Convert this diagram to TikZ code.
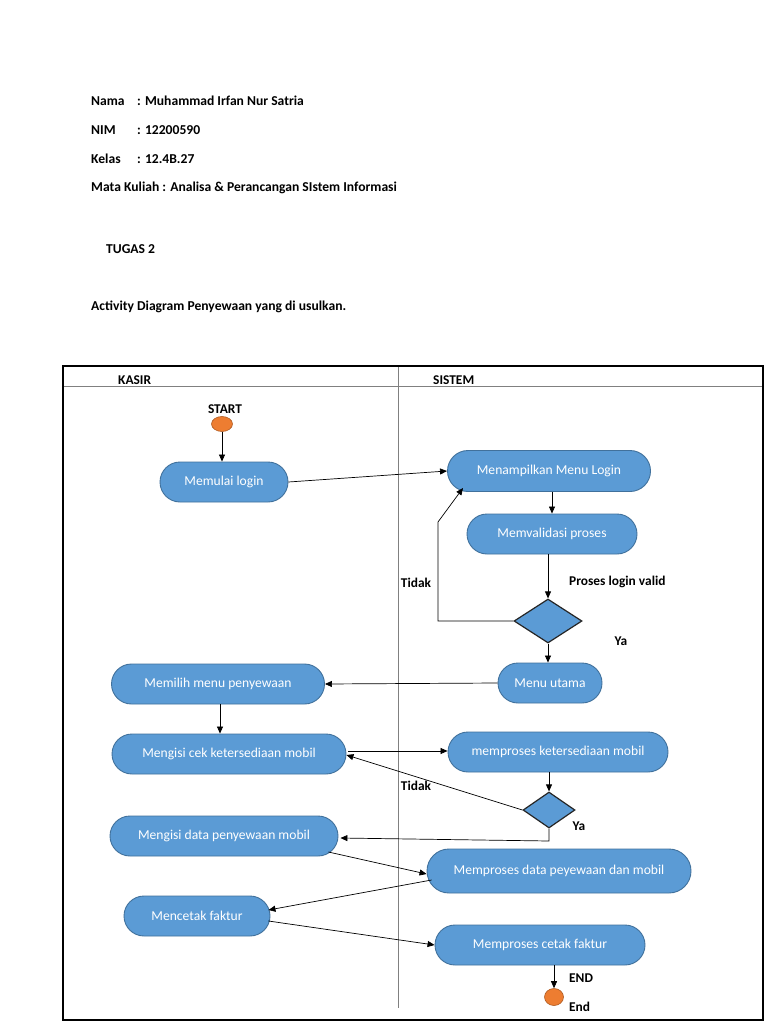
\documentclass[tikz,border=0pt]{standalone}
\usepackage{fontspec}
\setmainfont{Carlito}
\usetikzlibrary{shapes.misc,shapes.geometric,arrows.meta,calc}
\definecolor{actfill}{HTML}{5B9BD5}
\definecolor{actline}{HTML}{41719C}
\definecolor{orfill}{HTML}{ED7D31}
\definecolor{orline}{HTML}{AE5A21}
\definecolor{lanegray}{HTML}{808080}
\tikzset{
  act/.style={rounded rectangle, fill=actfill, draw=actline, line width=0.9pt,
    inner sep=0pt, minimum height=40pt, text=white, font=\fontsize{13.6}{15}\selectfont},
  dec/.style={diamond, fill=actfill, draw=black!85, line width=1.2pt, inner sep=0pt},
  flow/.style={-{Triangle[length=7pt,width=6pt]}, line width=0.7pt, black},
  hdr/.style={anchor=west, font=\bfseries\fontsize{13.6}{15}\selectfont, inner sep=0pt},
  lbl/.style={font=\bfseries\fontsize{13.4}{15}\selectfont, inner sep=0pt},
  dot/.style={ellipse, fill=orfill, draw=orline, line width=0.6pt, inner sep=0pt}
}
\begin{document}
\begin{tikzpicture}[x=1pt,y=-1pt]
\useasboundingbox (0,0) rectangle (768,1024);
\fill[white] (0,0) rectangle (768,1024);
% header text
\node[hdr] (h1) at (91,101) {Nama};
\node[hdr] (h1b) at (137,101) {: Muhammad Irfan Nur Satria};
\node[hdr] (h2) at (91,130) {NIM};
\node[hdr] (h2b) at (137,130) {: 12200590};
\node[hdr] (h3) at (91,159) {Kelas};
\node[hdr] (h3b) at (137,159) {: 12.4B.27};
\node[hdr] (h4) at (91,188) {Mata Kuliah : Analisa \& Perancangan SIstem Informasi};
\node[hdr] (h5) at (106,249) {TUGAS 2};
\node[hdr] (h6) at (91,307) {Activity Diagram Penyewaan yang di usulkan.};
% frame and lanes
\draw[line width=1.6pt] (63,366) rectangle (763,1020);
\draw[lanegray, line width=1pt] (64,386) -- (762,386);
\draw[lanegray, line width=1pt] (398,367) -- (398,1008);
\node[lbl, anchor=west] (kasir) at (118,380) {KASIR};
\node[lbl, anchor=west] (sistem) at (433,380) {SISTEM};
% start
\node[lbl] (startlbl) at (225,409) {START};
\node[dot, minimum width=21pt, minimum height=15pt] (start) at (222,424) {};
% activities
\node[act, minimum width=128pt] (login) at (224,482) {Memulai login};
\node[act, minimum width=203pt, minimum height=41pt] (menu) at (549,471) {Menampilkan Menu Login};
\node[act, minimum width=170pt] (valid) at (552,534) {Memvalidasi proses};
\node[dec, minimum width=68pt, minimum height=44pt] (d1) at (548,621) {};
\node[act, minimum width=104pt] (utama) at (550,683) {Menu utama};
\node[act, minimum width=213pt] (pilih) at (218,684) {Memilih menu penyewaan};
\node[act, minimum width=234pt] (cek) at (229,754) {Mengisi cek ketersediaan mobil};
\node[act, minimum width=220pt] (pcek) at (558,752) {memproses ketersediaan mobil};
\node[dec, minimum width=52pt, minimum height=36pt] (d2) at (549,810) {};
\node[act, minimum width=228pt] (data) at (224,836) {Mengisi data penyewaan mobil};
\node[act, minimum width=264pt, minimum height=44pt] (pdata) at (559,871) {Memproses data peyewaan dan mobil};
\node[act, minimum width=146pt] (cetak) at (197,916) {Mencetak faktur};
\node[act, minimum width=210pt] (pcetak) at (540,945) {Memproses cetak faktur};
\node[dot, minimum width=19pt, minimum height=17pt] (end) at (554,997) {};
% labels
\node[lbl] (tidak1) at (416,583) {Tidak};
\node[lbl, anchor=west] (plv) at (569,582) {Proses login valid};
\node[lbl] (ya1) at (621,641) {Ya};
\node[lbl] (tidak2) at (416,786) {Tidak};
\node[lbl] (ya2) at (579,826) {Ya};
\node[lbl, anchor=west] (endlbl) at (569,978) {END};
\node[lbl, anchor=west] (endlbl2) at (569,1007) {End};
% connectors
\coordinate (lp1) at (438,621);
\coordinate (lp2) at (438,522);
\coordinate (lp3) at (463,488);
\coordinate (ya2c) at (549,841);
\draw[flow] (start) -- (start |- login.north);
\draw[flow] (login.east) -- (menu.west);
\draw[flow] (menu.south -| valid.north) -- (valid.north);
\draw[flow] (valid.south -| d1.north) -- (d1.north);
\draw[flow] (d1.west) -- (lp1) -- (lp2) -- (lp3);
\draw[flow] (d1.south) -- (d1.south |- utama.north);
\draw[flow] (utama.west) -- (pilih.east);
\draw[flow] (pilih.south -| 220,0) -- (cek.north -| 220,0);
\draw[flow] ($(cek.east)+(2,-3)$) -- ($(pcek.west)+(0,-1)$);
\draw[flow] (pcek.south -| d2.north) -- (d2.north);
\draw[flow] (d2.west) -- ($(cek.east)+(0,1)$);
\draw[flow] (d2.south) -- (ya2c) -- ($(data.east)+(2,2)$);
\draw[flow] ($(data.east)+(-10,16)$) -- ($(pdata.west)+(0,3)$);
\draw[flow] ($(pdata.west)+(5,9)$) -- ($(cetak.east)+(-2,-6)$);
\draw[flow] ($(cetak.east)+(-2,5)$) -- (pcetak.west);
\draw[flow] (end |- pcetak.south) -- (end.north);
\end{tikzpicture}
\end{document}
